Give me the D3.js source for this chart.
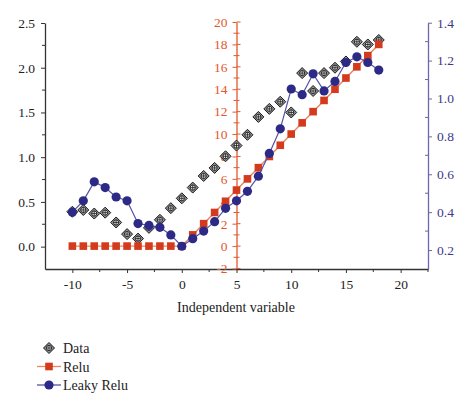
<!DOCTYPE html>
<html>
<head>
<meta charset="utf-8">
<script src="https://cdn.jsdelivr.net/npm/d3@7"></script>
<style>
    body { margin: 0; background: #fff; }
    svg { display: block; font-family: "Liberation Serif", "DejaVu Serif", serif; }
    .tick text { font-size: 13.5px; }
</style>
</head>
<body>
<svg id="chart" width="474" height="410"></svg>
<script>
// x positions shared by all series
const xValues = [-10, -9, -8, -7, -6, -5, -4, -3, -2, -1, 0, 1, 2, 3, 4, 5, 6, 7, 8, 9, 10, 11, 12, 13, 14, 15, 16, 17, 18];
// left axis
const dataValues = [0.39, 0.41, 0.37, 0.38, 0.27, 0.14, 0.09, 0.21, 0.30, 0.43, 0.54, 0.66, 0.79, 0.88, 1.01, 1.13, 1.25, 1.45, 1.54, 1.62, 1.50, 1.94, 1.74, 1.94, 2.00, 2.07, 2.29, 2.26, 2.31];
// middle (red) axis
const reluValues = [0, 0, 0, 0, 0, 0, 0, 0, 0, 0, 0, 1, 2, 3, 4, 5, 6, 7, 8, 9, 10, 11, 12, 13, 14, 15, 16, 17, 18];
// right (blue) axis
const leakyValues = [0.40, 0.46, 0.56, 0.53, 0.48, 0.46, 0.34, 0.33, 0.32, 0.28, 0.22, 0.26, 0.30, 0.35, 0.42, 0.46, 0.51, 0.59, 0.71, 0.84, 1.05, 1.02, 1.13, 1.04, 1.09, 1.19, 1.22, 1.19, 1.15];

const xTicks = [-10, -5, 0, 5, 10, 15, 20];
const leftTicks = [0, 0.5, 1.0, 1.5, 2.0, 2.5];
const reluTicks = [-2, 0, 2, 4, 6, 8, 10, 12, 14, 16, 18, 20];
const rightTicks = [0.2, 0.4, 0.6, 0.8, 1.0, 1.2, 1.4];
const seriesNames = ['Data', 'Relu', 'Leaky Relu'];

const RED_AXIS = '#e2582e';
const RED_LINE = '#ea8560';
const RED_FILL = '#d43a1c';
const BLUE_AXIS = '#6a68a6';
const BLUE_TEXT = '#3c3a88';
const BLUE_LINE = '#5452a6';
const BLUE_FILL = '#2c2a86';
const GRAY_AXIS = '#333';

const svg = d3.select('#chart');

const x = d3.scaleLinear().domain([-12.5, 22.5]).range([45, 428]);
const yLeft = d3.scaleLinear().domain([-0.25, 2.5]).range([269, 23]);
const yRelu = d3.scaleLinear().domain([-2, 20]).range([268.5, 22]);
const yRight = d3.scaleLinear().domain([0.1, 1.4]).range([269, 22.7]);

// plain hyphen minus like the original, not the unicode minus d3 uses
const plainInt = (d) => { return String(d); };
const plainOne = (d) => { return d.toFixed(1); };

// Minor tick marks drawn by hand since d3 axes only do one tick size
function minorTicks(g, values, pos, horizontal, from, to, color) {
    g.selectAll(null)
        .data(values)
        .enter()
        .append('line')
        .attr('x1', (d) => { return horizontal ? pos(d) : from; })
        .attr('x2', (d) => { return horizontal ? pos(d) : to; })
        .attr('y1', (d) => { return horizontal ? from : pos(d); })
        .attr('y2', (d) => { return horizontal ? to : pos(d); })
        .style('stroke', color)
        .style('stroke-width', 1);
}

function styleAxis(g, color, textColor) {
    g.attr('font-family', null).attr('font-size', null);
    g.select('.domain').style('stroke', color).style('stroke-width', 1.3);
    g.selectAll('.tick line').style('stroke', color).style('stroke-width', 1);
    g.selectAll('.tick text').style('fill', textColor);
}

// bottom axis
svg.append('g')
    .attr('transform', 'translate(0,269)')
    .call(d3.axisBottom(x).tickValues(xTicks).tickSize(4).tickSizeOuter(0).tickPadding(6).tickFormat(plainInt))
    .call(styleAxis, GRAY_AXIS, '#222');
minorTicks(svg.append('g'), [-7.5, -2.5, 2.5, 7.5, 12.5, 17.5, 22.5], x, true, 269, 272, GRAY_AXIS);

// left axis
svg.append('g')
    .attr('transform', 'translate(45,0)')
    .call(d3.axisLeft(yLeft).tickValues(leftTicks).tickSize(4).tickSizeOuter(0).tickPadding(6).tickFormat(plainOne))
    .call(styleAxis, GRAY_AXIS, '#222');
minorTicks(svg.append('g'), [0.25, 0.75, 1.25, 1.75, 2.25], yLeft, false, 42, 45, GRAY_AXIS);

// red axis sits at x = 5, ticks cross the line
svg.append('g')
    .attr('transform', `translate(${x(5)},0)`)
    .call(d3.axisLeft(yRelu).tickValues(reluTicks).tickSize(4).tickSizeOuter(0).tickPadding(5).tickFormat(plainInt))
    .call(styleAxis, RED_AXIS, RED_AXIS);
minorTicks(svg.append('g'), reluTicks, yRelu, false, x(5), x(5) + 4, RED_AXIS);
minorTicks(svg.append('g'), d3.range(-1, 20, 2), yRelu, false, x(5) - 3, x(5) + 3, RED_AXIS);

// right axis
svg.append('g')
    .attr('transform', 'translate(428,0)')
    .call(d3.axisRight(yRight).tickValues(rightTicks).tickSize(4).tickSizeOuter(0).tickPadding(5).tickFormat(plainOne))
    .call(styleAxis, BLUE_AXIS, BLUE_TEXT);
minorTicks(svg.append('g'), [0.3, 0.5, 0.7, 0.9, 1.1, 1.3], yRight, false, 425, 428, BLUE_AXIS);

svg.append('text')
    .attr('x', 236)
    .attr('y', 312)
    .attr('text-anchor', 'middle')
    .style('font-size', '14px')
    .style('fill', '#222')
    .text('Independent variable');

// Markers
function drawDataMarker(g) {
    g.append('path')
        .attr('d', 'M0,-5.5L5.5,0L0,5.5L-5.5,0Z')
        .style('fill', '#8e8e8e')
        .style('stroke', '#1a1a1a')
        .style('stroke-width', 1);
    g.append('circle')
        .attr('r', 2.6)
        .style('fill', '#e6e6e6')
        .style('stroke', '#1a1a1a')
        .style('stroke-width', 0.9);
    g.append('path')
        .attr('d', 'M-2.6,0H2.6M0,-2.6V2.6')
        .style('stroke', '#1a1a1a')
        .style('stroke-width', 0.8);
}

function drawReluMarker(g) {
    g.append('rect')
        .attr('x', -3.8)
        .attr('y', -3.8)
        .attr('width', 7.6)
        .attr('height', 7.6)
        .style('fill', RED_FILL);
}

function drawLeakyMarker(g) {
    g.append('circle')
        .attr('r', 4.6)
        .style('fill', BLUE_FILL);
}

const points = (values) => { return xValues.map((d, i) => { return [d, values[i]]; }); };

// Data (points only)
svg.append('g')
    .selectAll('g')
    .data(points(dataValues))
    .enter()
    .append('g')
    .attr('transform', (d) => { return `translate(${x(d[0])},${yLeft(d[1])})`; })
    .each(function () { drawDataMarker(d3.select(this)); });

// Relu
svg.append('path')
    .datum(points(reluValues))
    .attr('d', d3.line().x((d) => { return x(d[0]); }).y((d) => { return yRelu(d[1]); }))
    .style('fill', 'none')
    .style('stroke', RED_LINE)
    .style('stroke-width', 1.4);
svg.append('g')
    .selectAll('g')
    .data(points(reluValues))
    .enter()
    .append('g')
    .attr('transform', (d) => { return `translate(${x(d[0])},${yRelu(d[1])})`; })
    .each(function () { drawReluMarker(d3.select(this)); });

// Leaky Relu
svg.append('path')
    .datum(points(leakyValues))
    .attr('d', d3.line().x((d) => { return x(d[0]); }).y((d) => { return yRight(d[1]); }))
    .style('fill', 'none')
    .style('stroke', BLUE_LINE)
    .style('stroke-width', 1.2);
svg.append('g')
    .selectAll('g')
    .data(points(leakyValues))
    .enter()
    .append('g')
    .attr('transform', (d) => { return `translate(${x(d[0])},${yRight(d[1])})`; })
    .each(function () { drawLeakyMarker(d3.select(this)); });

// Legend
const legend = svg.append('g').attr('transform', 'translate(0,348)');
const legendLines = [null, RED_LINE, BLUE_LINE];
const legendMarkers = [drawDataMarker, drawReluMarker, drawLeakyMarker];
const legendRow = legend.selectAll('g')
    .data(seriesNames)
    .enter()
    .append('g')
    .attr('transform', (d, i) => { return `translate(0,${i * 18.5})`; });

legendRow.each(function (d, i) {
    const row = d3.select(this);
    if (legendLines[i]) {
        row.append('line')
            .attr('x1', 37).attr('x2', 61)
            .attr('y1', 0).attr('y2', 0)
            .style('stroke', legendLines[i])
            .style('stroke-width', 1.3);
    }
    legendMarkers[i](row.append('g').attr('transform', 'translate(49,0)'));
    row.append('text')
        .attr('x', 63)
        .attr('y', 5)
        .style('font-size', '14px')
        .style('fill', '#222')
        .text(d);
});
</script>
</body>
</html>
